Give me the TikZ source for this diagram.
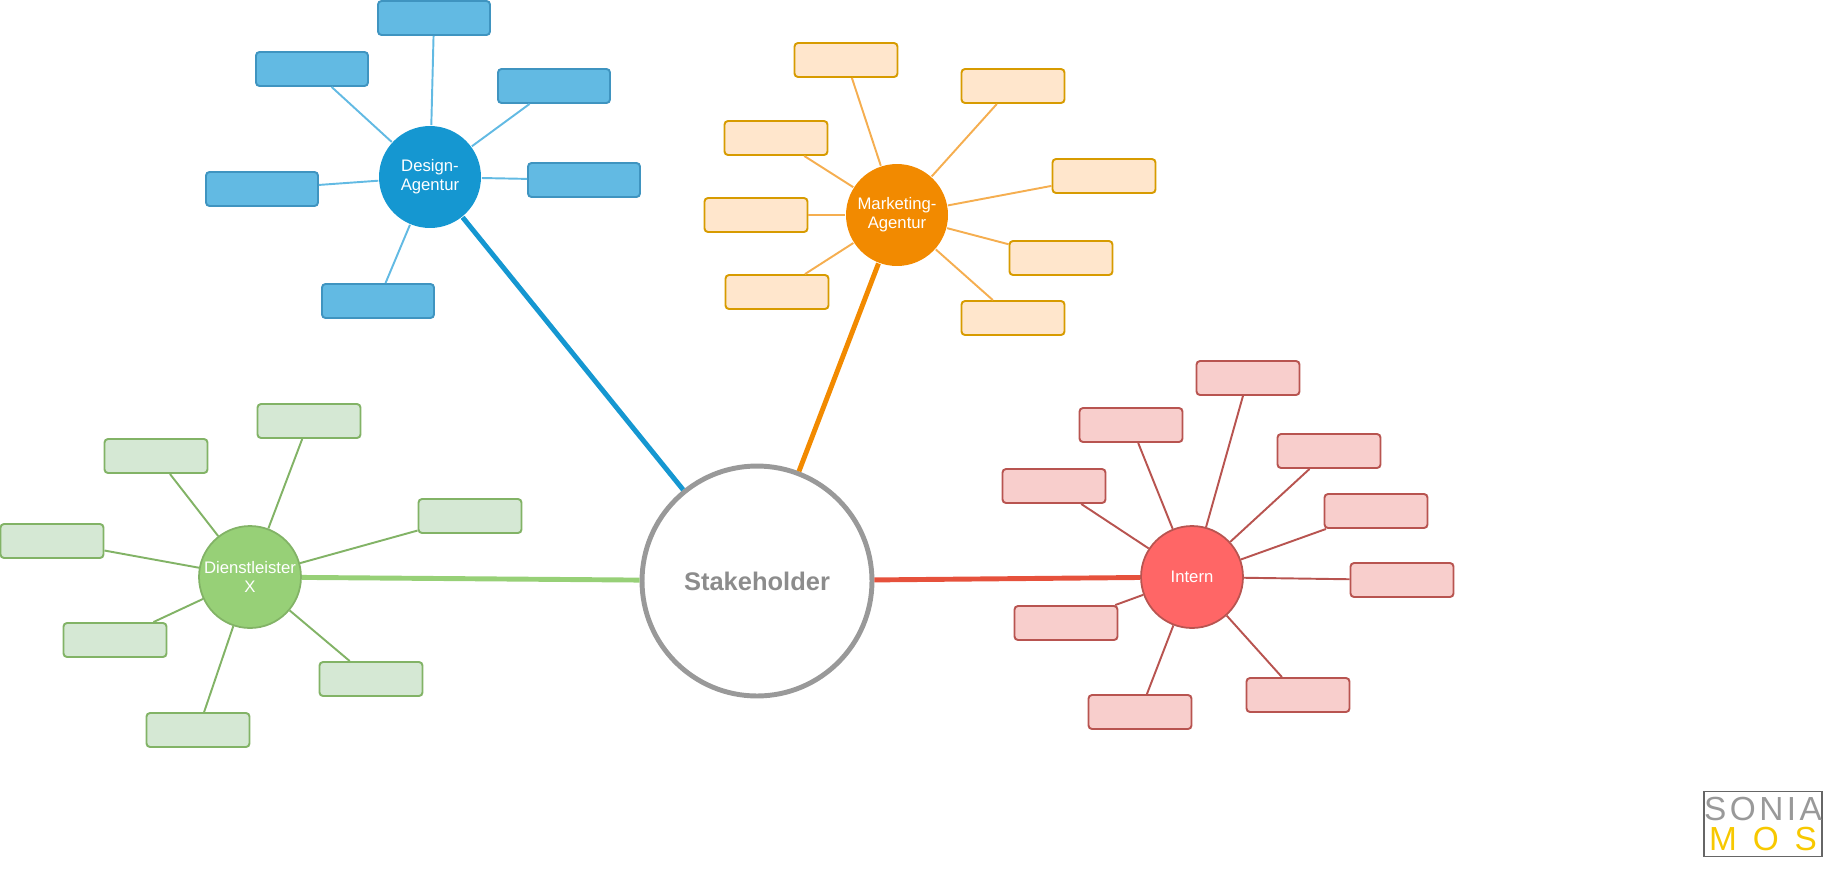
\documentclass[tikz,border=0pt]{standalone}
\usepackage{fontspec}
\setmainfont{Liberation Sans}
\usetikzlibrary{positioning}
\definecolor{dblue}{HTML}{1597D1}
\definecolor{lblue}{HTML}{62BAE3}
\definecolor{bblue}{HTML}{3F94C0}
\definecolor{dorange}{HTML}{F28A00}
\definecolor{lorange}{HTML}{FFE6CC}
\definecolor{borange}{HTML}{D79B00}
\definecolor{korange}{HTML}{F5AE50}
\definecolor{dgreen}{HTML}{97D077}
\definecolor{lgreen}{HTML}{D5E8D4}
\definecolor{bgreen}{HTML}{82B366}
\definecolor{dred}{HTML}{FF6666}
\definecolor{lred}{HTML}{F8CECC}
\definecolor{bred}{HTML}{B85450}
\definecolor{kred}{HTML}{E6513C}
\definecolor{logoyellow}{HTML}{F7C800}
\tikzset{
  hub/.style={circle,minimum size=2.04cm,inner sep=0pt,text=white,font=\fontsize{9.5}{11}\selectfont,align=center,line width=1pt},
  leaf/.style={rounded corners=2pt,minimum width=2.06cm,minimum height=0.68cm,line width=1.1pt},
  branch/.style={line width=1.1pt},
  spoke/.style={line width=2.8pt}
}
\begin{document}
\begin{tikzpicture}[x=0.02cm,y=-0.02cm]
\useasboundingbox (0,0) rectangle (1825,873);

% centre
\node[circle,draw=black!40,line width=2.8pt,minimum size=4.6cm,text=black!45,font=\bfseries\fontsize{14.5}{16}\selectfont] (stake) at (757,581) {Stakeholder};

% hubs
\node[hub,fill=dblue] (design) at (430,177) {Design-\\Agentur};
\node[hub,fill=dorange] (marketing) at (897,215) {Marketing-\\Agentur};
\node[hub,fill=dgreen,draw=bgreen] (dienst) at (250,577) {Dienstleister\\X};
\node[hub,fill=dred,draw=bred] (intern) at (1192,577) {Intern};

\draw[spoke,dblue] (stake) -- (design);
\draw[spoke,dorange] (stake) -- (marketing);
\draw[spoke,dgreen] (stake) -- (dienst);
\draw[spoke,kred] (stake) -- (intern);

% leaves
\foreach \p [count=\i] in {(434,18),(312,69),(554,86),(262,189),(584,180),(378,301)} {
  \node[leaf,minimum width=2.24cm,fill=lblue,draw=bblue] (d\i) at \p {};
  \draw[branch,lblue] (design) -- (d\i);
}
\foreach \p [count=\i] in {(846,60),(1013,86),(776,138),(1104,176),(756,215),(1061,258),(777,292),(1013,318)} {
  \node[leaf,fill=lorange,draw=borange] (m\i) at \p {};
  \draw[branch,korange] (marketing) -- (m\i);
}
\foreach \p [count=\i] in {(309,421),(156,456),(52,541),(470,516),(115,640),(371,679),(198,730)} {
  \node[leaf,fill=lgreen,draw=bgreen] (g\i) at \p {};
  \draw[branch,bgreen] (dienst) -- (g\i);
}
\foreach \p [count=\i] in {(1248,378),(1131,425),(1329,451),(1054,486),(1376,511),(1402,580),(1066,623),(1298,695),(1140,712)} {
  \node[leaf,fill=lred,draw=bred] (r\i) at \p {};
  \draw[branch,bred] (intern) -- (r\i);
}

% logo
\node[draw=black!60,line width=0.8pt,minimum width=2.36cm,minimum height=1.3cm,inner sep=0pt,align=center,font=\fontsize{19}{17}\selectfont] (logo) at (1763,824)
  {\textcolor{black!40}{S\kern2pt O\kern2pt N\kern2pt I\kern2pt A}\\\textcolor{logoyellow}{M\kern9pt O\kern9pt S}};
\end{tikzpicture}
\end{document}
